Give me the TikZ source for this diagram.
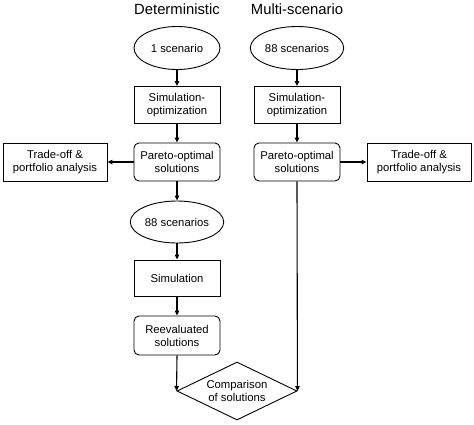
\documentclass[tikz,border=0pt]{standalone}
\usepackage{fontspec}
\setmainfont{Liberation Sans}
\usetikzlibrary{positioning,arrows.meta,shapes.geometric}
\tikzset{
  box/.style={draw, align=center, font=\fontsize{11.3}{13}\selectfont,
              minimum width=86pt, minimum height=37pt, inner sep=1pt,
              line width=0.9pt, fill=white},
  rbox/.style={box, rounded corners=5pt},
  ell/.style={box, ellipse, minimum height=43pt},
  dia/.style={box, diamond, aspect=2.07, minimum width=120pt, minimum height=58pt, inner sep=0pt},
  ttl/.style={font=\fontsize{14.8}{17}\selectfont},
  arr/.style={-{Triangle[length=5pt,width=4.5pt]}, line width=1.1pt},
}

\begin{document}
\begin{tikzpicture}[x=1pt, y=-1pt]
  \useasboundingbox (0,0) rectangle (474,424);

  \node[ttl] (tdet) at (177,9) {Deterministic};
  \node[ttl] (tmul) at (297,9) {Multi-scenario};

  % deterministic column
  \node[ell] (sc1) at (177,48) {1 scenario};
  \node[box] (simopt1) at (177,105) {Simulation-\\optimization};
  \node[rbox, minimum height=38pt] (pareto1) at (177,162) {Pareto-optimal\\solutions};
  \node[box, minimum width=104pt, minimum height=38pt] (trade1) at (55,162) {Trade-off \&\\portfolio analysis};
  \node[ell, minimum height=42pt] (sc88b) at (177,222) {88 scenarios};
  \node[box, minimum height=36pt] (sim) at (177,278) {Simulation};
  \node[rbox, minimum height=39pt] (reeval) at (177,335.5) {Reevaluated\\solutions};

  % multi-scenario column
  \node[ell] (sc88) at (297,48) {88 scenarios};
  \node[box] (simopt2) at (297,105) {Simulation-\\optimization};
  \node[rbox, minimum height=38pt] (pareto2) at (297,162) {Pareto-optimal\\solutions};
  \node[box, minimum width=104pt, minimum height=38pt] (trade2) at (419,162) {Trade-off \&\\portfolio analysis};

  \node[dia] (comp) at (237,391) {Comparison\\of solutions};

  \draw[arr] (sc1) -- (simopt1);
  \draw[arr] (simopt1) -- (pareto1);
  \draw[arr] (pareto1) -- (trade1);
  \draw[arr] (pareto1) -- (sc88b);
  \draw[arr] (sc88b) -- (sim);
  \draw[arr] (sim) -- (reeval);
  \draw[arr] (reeval.south) -- (comp.west);

  \draw[arr] (sc88) -- (simopt2);
  \draw[arr] (simopt2) -- (pareto2);
  \draw[arr] (pareto2) -- (trade2);
  \draw[arr] (pareto2.south) -- (comp.east);
\end{tikzpicture}
\end{document}
